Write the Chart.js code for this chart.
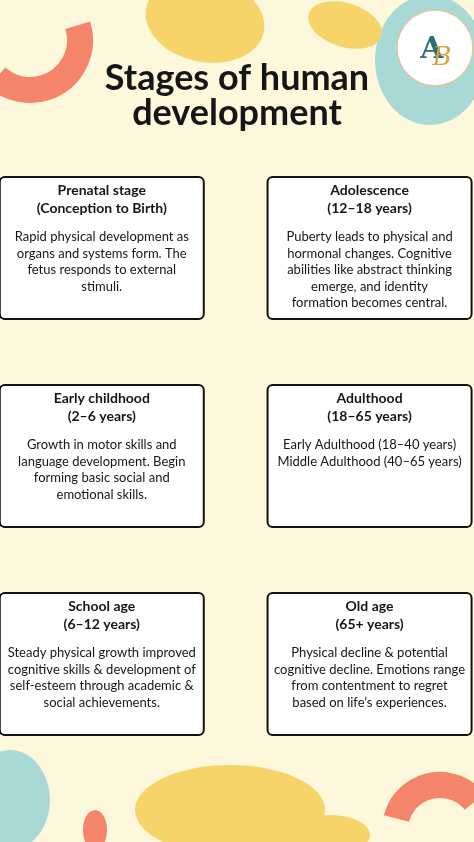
<!DOCTYPE html>
<html><head><meta charset="utf-8">
<script src="https://cdn.jsdelivr.net/npm/chart.js@4"></script>
<style>html,body{margin:0;padding:0;background:#fdf8dc;}#c{display:block;}</style>
</head><body>
<div style="width:474px;height:842px;position:relative"><canvas id="c"></canvas></div>
<script>
const stages = ["Prenatal stage","Adolescence","Early childhood","Adulthood","School age","Old age"];
const ranges = ["Conception to Birth","12–18 years","2–6 years","18–65 years","6–12 years","65+ years"];
const columns = [0,1,0,1,0,1];
const rows = [0,0,1,1,2,2];
const descriptions = [
 ["Rapid physical development as","organs and systems form. The","fetus responds to external","stimuli."],
 ["Puberty leads to physical and","hormonal changes. Cognitive","abilities like abstract thinking","emerge, and identity","formation becomes central."],
 ["Growth in motor skills and","language development. Begin","forming basic social and","emotional skills."],
 ["Early Adulthood (18–40 years)","Middle Adulthood (40–65 years)"],
 ["Steady physical growth improved","cognitive skills & development of","self-esteem through academic &","social achievements."],
 ["Physical decline & potential","cognitive decline. Emotions range","from contentment to regret","based on life’s experiences."]
];
const title = ["Stages of human","development"];

const deco = {
 id:'deco',
 beforeDraw(ch){
  const c=ch.ctx; c.save();
  c.fillStyle='#fdf8dc'; c.fillRect(0,0,ch.width,ch.height);
  c.strokeStyle='#f4846a'; c.lineWidth=26; c.beginPath(); c.arc(30,40,50,-0.3,2.3); c.stroke();
  c.fillStyle='#f6d46a'; c.beginPath(); c.ellipse(205,20,60,42,0.2,0,Math.PI*2); c.fill();
  c.fillStyle='#a9d9d6'; c.beginPath(); c.ellipse(430,60,55,65,0,0,Math.PI*2); c.fill();
  c.fillStyle='#f6d46a'; c.beginPath(); c.ellipse(345,25,38,22,0.3,0,Math.PI*2); c.fill();
  c.fillStyle='#fff'; c.strokeStyle='#d8c9a0'; c.lineWidth=1.5; c.beginPath(); c.arc(435,48,38,0,Math.PI*2); c.fill(); c.stroke();
  c.fillStyle='#2c6e78'; c.font='bold 30px "DejaVu Serif"'; c.textAlign='center'; c.textBaseline='middle'; c.fillText('A',432,50);
  c.fillStyle='#d4a64a'; c.font='italic 26px "DejaVu Serif"'; c.fillText('B',442,58);
  c.fillStyle='#a9d9d6'; c.beginPath(); c.ellipse(10,800,40,50,0,0,Math.PI*2); c.fill();
  c.fillStyle='#f6d46a'; c.beginPath(); c.ellipse(230,810,95,45,0,0,Math.PI*2); c.fill();
  c.beginPath(); c.ellipse(330,835,40,20,0,0,Math.PI*2); c.fill();
  c.strokeStyle='#f4846a'; c.lineWidth=26; c.beginPath(); c.arc(440,830,45,3.4,5.6); c.stroke();
  c.fillStyle='#f4846a'; c.beginPath(); c.ellipse(95,830,12,20,0,0,Math.PI*2); c.fill();
  c.fillStyle='#161616'; c.font='bold 36px Lato'; c.textAlign='center'; c.textBaseline='alphabetic';
  c.fillText(title[0],237,90); c.fillText(title[1],237,125);
  c.restore();
 },
 afterDatasetsDraw(ch){
  const c=ch.ctx; const meta=ch.getDatasetMeta(0);
  c.save();
  meta.data.forEach((pt,i)=>{
   const w=204,h=142,x=pt.x-w/2,y=pt.y-h/2+1;
   c.fillStyle='#fff'; c.strokeStyle='#111'; c.lineWidth=2;
   c.beginPath(); c.roundRect(x,y,w,h,5); c.fill(); c.stroke();
   c.fillStyle='#151515'; c.textAlign='center'; c.textBaseline='middle';
   c.font='bold 14px Lato'; c.fillText(stages[i],pt.x,y+13);
   c.fillText('('+ranges[i]+')',pt.x,y+31);
   c.font='13px Lato';
   descriptions[i].forEach((l,j)=>c.fillText(l,pt.x,y+60+j*16.5));
  });
  c.restore();
 }
};

new Chart(document.getElementById('c'),{
 type:'scatter',
 data:{datasets:[{data:columns.map((x,i)=>({x:x,y:rows[i]})),pointRadius:0}]},
 options:{responsive:true,maintainAspectRatio:false,animation:false,
  layout:{padding:0},
  plugins:{legend:{display:false},tooltip:{enabled:false}},
  scales:{x:{type:'linear',min:-0.38,max:1.39,display:false},
          y:{type:'linear',reverse:true,min:-1.1875,max:2.86,display:false}}},
 plugins:[deco]
});
</script>
</body></html>
